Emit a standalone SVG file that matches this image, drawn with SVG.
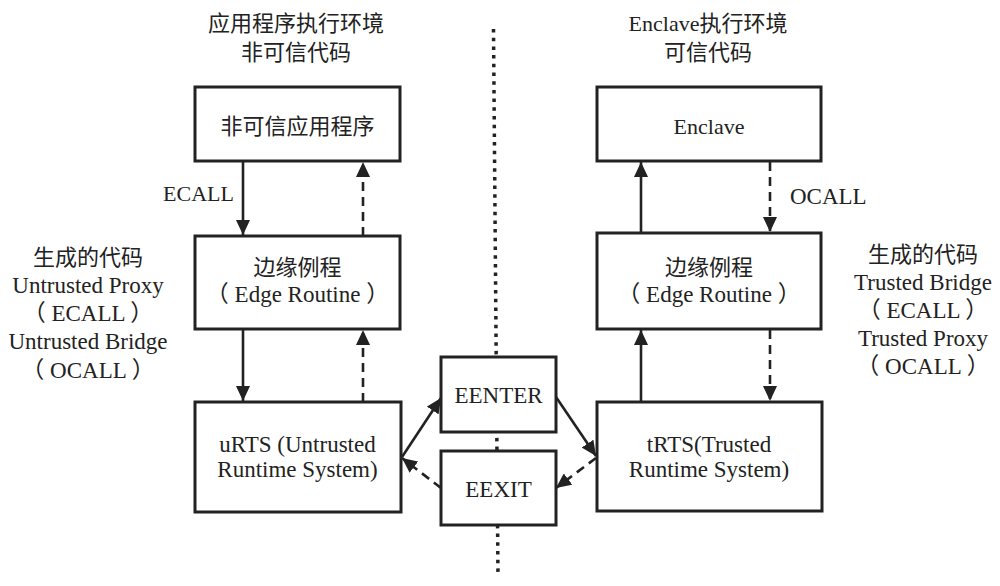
<svg xmlns="http://www.w3.org/2000/svg" width="1000" height="586" viewBox="0 0 1000 586">
<style>
text{font-family:"Liberation Serif","Noto Sans CJK SC",serif;font-size:23px;fill:#222;text-anchor:middle}
.cjk{font-size:22px}
.sm{font-size:22px}
.box{fill:#fff;stroke:#222;stroke-width:3}
.c{stroke:#222;stroke-width:2.6;fill:none}
.d{stroke-dasharray:9 6}
</style>
<defs>
<marker id="ah" markerUnits="userSpaceOnUse" markerWidth="15" markerHeight="14" viewBox="0 0 15 14" refX="15" refY="7" orient="auto">
<path d="M0,0 L15,7 L0,14 z" fill="#222" stroke="none"/>
</marker>
</defs>
<rect width="1000" height="586" fill="#fff"/>
<g id="divider">
<line x1="493.5" y1="29" x2="498" y2="577" stroke="#222" stroke-width="3.5" stroke-dasharray="3.5 5.2"/>
</g>
<g id="titles">
<text class="cjk" x="296" y="31">应用程序执行环境</text>
<text class="cjk" x="296" y="60">非可信代码</text>
<text class="cjk" x="708" y="31">Enclave执行环境</text>
<text class="cjk" x="708" y="60">可信代码</text>
</g>
<g id="left-notes">
<text class="cjk" x="88" y="265">生成的代码</text>
<text x="88" y="293">Untrusted Proxy</text>
<text x="88" y="321">（ ECALL ）</text>
<text x="88" y="349">Untrusted Bridge</text>
<text x="88" y="378">（ OCALL ）</text>
</g>
<g id="right-notes">
<text class="cjk" x="923" y="262">生成的代码</text>
<text x="923" y="290">Trusted Bridge</text>
<text x="923" y="318">（ ECALL ）</text>
<text x="923" y="346">Trusted Proxy</text>
<text x="923" y="374">（ OCALL ）</text>
</g>
<g id="connectors">
<line class="c" x1="243" y1="161" x2="243" y2="235" marker-end="url(#ah)"/>
<line class="c d" x1="363" y1="236" x2="363" y2="162" marker-end="url(#ah)"/>
<line class="c" x1="243" y1="329" x2="243" y2="401" marker-end="url(#ah)"/>
<line class="c d" x1="363" y1="402" x2="363" y2="330" marker-end="url(#ah)"/>
<line class="c" x1="641" y1="233" x2="641" y2="162" marker-end="url(#ah)"/>
<line class="c d" x1="770" y1="162" x2="770" y2="232" marker-end="url(#ah)"/>
<line class="c" x1="641" y1="402" x2="641" y2="330" marker-end="url(#ah)"/>
<line class="c d" x1="770" y1="330" x2="770" y2="401" marker-end="url(#ah)"/>
<line class="c" x1="402" y1="457" x2="441" y2="398" marker-end="url(#ah)"/>
<line class="c" x1="556" y1="397" x2="596" y2="456" marker-end="url(#ah)"/>
<line class="c d" x1="596" y1="458" x2="556" y2="488" marker-end="url(#ah)"/>
<line class="c d" x1="441" y1="488" x2="402" y2="458" marker-end="url(#ah)"/>
<text class="sm" x="234" y="201" style="text-anchor:end">ECALL</text>
<text x="790" y="204" style="text-anchor:start">OCALL</text>
</g>
<g id="untrusted-app">
<rect class="box" x="195" y="87" width="205" height="74"/>
<text class="cjk" x="297.5" y="134">非可信应用程序</text>
</g>
<g id="untrusted-edge">
<rect class="box" x="195" y="236" width="205" height="93"/>
<text class="cjk" x="297.5" y="275">边缘例程</text>
<text x="297.5" y="302">（ Edge Routine ）</text>
</g>
<g id="urts">
<rect class="box" x="195" y="402" width="206" height="110"/>
<text x="297.5" y="452">uRTS (Untrusted</text>
<text x="297.5" y="477">Runtime System)</text>
</g>
<g id="enclave">
<rect class="box" x="597" y="87" width="224" height="74"/>
<text class="sm" x="709" y="134">Enclave</text>
</g>
<g id="trusted-edge">
<rect class="box" x="597" y="233" width="224" height="96"/>
<text class="cjk" x="709" y="275">边缘例程</text>
<text x="709" y="302">（ Edge Routine ）</text>
</g>
<g id="trts">
<rect class="box" x="597" y="402" width="225" height="109"/>
<text x="709" y="452">tRTS(Trusted</text>
<text x="709" y="477">Runtime System)</text>
</g>
<g id="eenter">
<rect class="box" x="441" y="357" width="115" height="75"/>
<text x="498.5" y="403">EENTER</text>
</g>
<g id="eexit">
<rect class="box" x="441" y="451" width="115" height="74"/>
<text x="498.5" y="497">EEXIT</text>
</g>
</svg>
